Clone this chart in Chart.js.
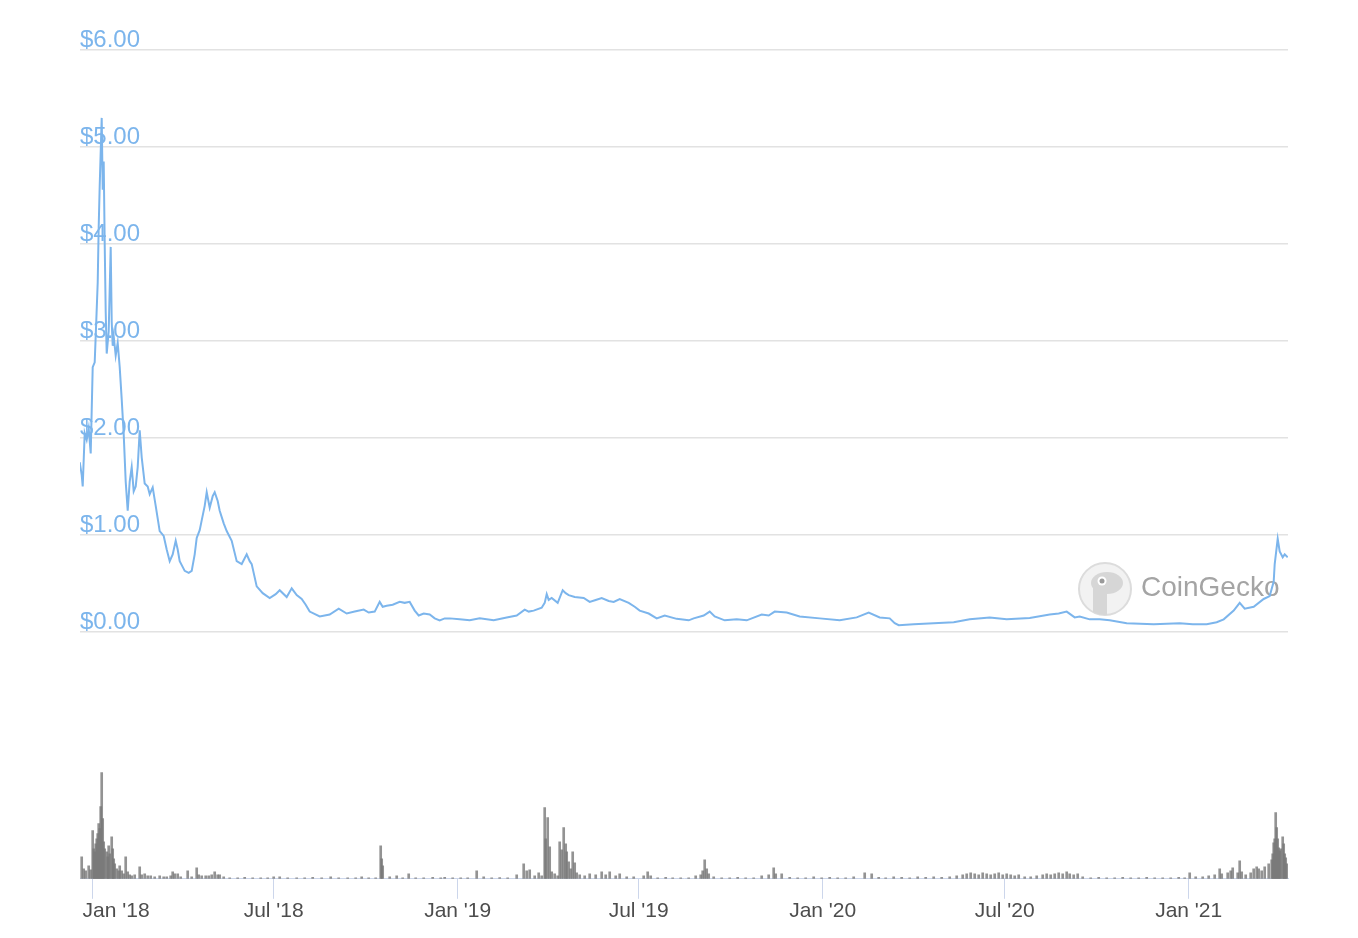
<!DOCTYPE html>
<html>
<head>
<meta charset="utf-8">
<script src="https://cdn.jsdelivr.net/npm/chart.js@4/dist/chart.umd.min.js"></script>
<style>
  html, body { margin: 0; padding: 0; background: #fff; }
  #wrap { position: relative; width: 1358px; height: 938px; }
</style>
</head>
<body>
<div id="wrap"><canvas id="priceChart" width="1358" height="938"></canvas></div>
<script>
// days counted from Jan 1 2018
const priceDays = [
  -13, -11, -10, -8, -6, -4, -2, 0, 2, 3, 5, 6, 7, 9, 10, 11, 12, 13, 14, 16,
  18, 19, 20, 21, 23, 25, 27, 29, 31, 33, 35, 37, 39, 41, 43, 45, 47, 49, 52, 55,
  57, 60, 63, 67, 71, 74, 77, 80, 83, 85, 87, 92, 96, 99, 102, 104, 107, 109, 112, 114,
  117, 120, 122, 125, 127, 131, 134, 139, 144, 149, 154, 157, 159, 164, 170, 177, 183, 187, 194, 199,
  204, 209, 213, 217, 227, 237, 246, 254, 262, 271, 276, 282, 287, 290, 294, 300, 307, 312, 317, 322,
  326, 331, 337, 342, 347, 352, 357, 367, 377, 387, 401, 414, 424, 432, 436, 441, 449, 452, 454, 456,
  459, 465, 470, 473, 476, 482, 491, 497, 503, 509, 516, 521, 527, 536, 542, 547, 556, 564, 572, 584,
  596, 601, 611, 617, 622, 632, 644, 654, 669, 676, 682, 694, 707, 727, 747, 764, 776, 787, 797, 802,
  806, 821, 841, 861, 877, 897, 914, 937, 957, 966, 974, 982, 987, 997, 1007, 1017, 1034, 1061, 1087, 1100,
  1114, 1124, 1131, 1141, 1147, 1152, 1161, 1171, 1177, 1181, 1182, 1185, 1187, 1190, 1192, 1195
];
const priceUsd = [
  1.75, 1.62, 1.50, 2.05, 1.98, 2.10, 1.84, 2.73, 2.78, 3.05, 3.60, 4.18, 4.60, 5.30, 4.56, 4.85, 4.00, 3.30, 2.87, 3.10,
  3.97, 3.20, 2.95, 3.05, 2.85, 2.98, 2.73, 2.40, 2.04, 1.55, 1.25, 1.55, 1.70, 1.45, 1.50, 1.70, 2.08, 1.80, 1.53, 1.50,
  1.42, 1.49, 1.30, 1.04, 0.99, 0.85, 0.73, 0.80, 0.94, 0.85, 0.73, 0.63, 0.61, 0.63, 0.80, 0.97, 1.05, 1.15, 1.30, 1.44,
  1.28, 1.40, 1.44, 1.35, 1.25, 1.12, 1.04, 0.94, 0.73, 0.70, 0.80, 0.73, 0.70, 0.47, 0.40, 0.35, 0.39, 0.43, 0.36, 0.45,
  0.38, 0.34, 0.28, 0.21, 0.16, 0.18, 0.24, 0.19, 0.21, 0.23, 0.20, 0.21, 0.31, 0.26, 0.27, 0.28, 0.31, 0.30, 0.31, 0.22,
  0.17, 0.19, 0.18, 0.14, 0.12, 0.14, 0.14, 0.13, 0.12, 0.14, 0.12, 0.15, 0.17, 0.23, 0.21, 0.22, 0.25, 0.30, 0.39, 0.33,
  0.35, 0.30, 0.43, 0.40, 0.38, 0.36, 0.35, 0.31, 0.33, 0.35, 0.32, 0.31, 0.34, 0.30, 0.26, 0.22, 0.19, 0.14, 0.17, 0.135,
  0.12, 0.14, 0.17, 0.21, 0.16, 0.12, 0.13, 0.12, 0.18, 0.17, 0.21, 0.20, 0.16, 0.14, 0.12, 0.15, 0.20, 0.15, 0.14, 0.09,
  0.07, 0.08, 0.09, 0.10, 0.13, 0.15, 0.13, 0.145, 0.18, 0.19, 0.21, 0.15, 0.16, 0.13, 0.13, 0.12, 0.09, 0.08, 0.09, 0.08,
  0.08, 0.10, 0.13, 0.22, 0.30, 0.24, 0.26, 0.34, 0.37, 0.52, 0.70, 0.96, 0.83, 0.77, 0.80, 0.77
];

// volume, relative units
const volumeDays = [
  -11, -9, -7, -4, -2, 0, 1, 2, 3, 4, 5, 6, 7, 8, 9, 10, 11, 12, 14, 15,
  16, 17, 19, 20, 21, 22, 24, 26, 27, 29, 31, 33, 35, 37, 39, 42, 47, 49, 52, 55,
  58, 62, 67, 71, 74, 78, 80, 82, 85, 88, 95, 99, 104, 106, 109, 113, 116, 119, 122, 125,
  127, 131, 137, 145, 152, 160, 168, 175, 181, 187, 195, 204, 212, 220, 229, 238, 246, 255, 263, 269,
  276, 283, 288, 289, 290, 297, 304, 310, 316, 323, 331, 340, 348, 352, 360, 368, 375, 384, 391, 399,
  407, 415, 424, 431, 434, 437, 442, 446, 449, 452, 453, 455, 457, 459, 462, 465, 467, 469, 471, 473,
  474, 476, 478, 480, 482, 484, 487, 492, 497, 503, 509, 513, 517, 523, 527, 534, 541, 551, 555, 558,
  565, 573, 580, 588, 596, 603, 608, 610, 612, 614, 616, 621, 629, 637, 645, 653, 661, 669, 676, 681,
  683, 689, 697, 705, 713, 721, 729, 737, 745, 753, 761, 772, 779, 786, 793, 801, 809, 817, 825, 833,
  841, 849, 857, 864, 870, 874, 878, 882, 886, 890, 894, 898, 902, 906, 910, 914, 918, 922, 926, 932,
  938, 944, 950, 954, 958, 962, 966, 970, 974, 977, 981, 985, 990, 998, 1006, 1014, 1022, 1030, 1038, 1046,
  1054, 1062, 1070, 1078, 1086, 1092, 1097, 1103, 1110, 1116, 1122, 1127, 1129, 1135, 1138, 1140, 1145, 1147, 1149, 1153,
  1158, 1161, 1164, 1166, 1169, 1172, 1176, 1179, 1180, 1181, 1182, 1183, 1184, 1185, 1186, 1187, 1188, 1190, 1191, 1192,
  1193, 1194
];
const volumeRel = [
  22, 10, 8, 13, 9, 48, 30, 27, 35, 40, 45, 55, 50, 72, 106, 60, 37, 30, 27, 22,
  33, 25, 42, 30, 20, 15, 10, 8, 13, 8, 5, 22, 7, 4, 3, 4, 12, 4, 5, 3,
  3, 2, 3, 2, 2, 3, 7, 5, 5, 2, 8, 2, 11, 4, 3, 3, 3, 4, 7, 4,
  4, 2, 1, 1, 1.5, 1, 1, 1, 2, 2, 1, 1, 1, 1.5, 1, 2, 1, 1, 1, 2,
  1, 1, 33, 20, 13, 2, 3, 1, 5, 1, 1, 1.5, 1, 1.5, 1, 1, 1, 8, 2, 1,
  1.3, 1, 4, 15, 8, 9, 3, 6, 3, 71, 40, 61, 32, 7, 5, 3, 37, 29, 51, 35,
  27, 17, 10, 27, 16, 6, 4, 3, 5, 4, 7, 4, 7, 3, 5, 2, 2, 3, 7, 3,
  1, 1.5, 1, 1, 1, 3, 4, 8, 19, 10, 5, 2, 1, 1, 1.5, 1, 1, 3, 4, 11,
  5, 5, 1.5, 1, 1, 2, 1, 1.5, 1, 1, 2, 6, 5, 1.5, 1, 2, 1.5, 1, 2, 1.5,
  2, 1.5, 2, 3, 4, 5, 6, 5, 4, 6, 5, 4, 5, 6, 4, 5, 4, 3, 4, 2,
  2, 3, 4, 5, 4, 5, 6, 5, 7, 5, 4, 5, 2, 1, 1.5, 1, 1, 1.5, 1, 1,
  1.5, 1, 1, 1, 1.5, 1, 6, 2, 2, 3, 4, 10, 5, 6, 8, 11, 6, 18, 7, 4,
  6, 10, 12, 10, 8, 12, 15, 19, 25, 36, 40, 66, 51, 40, 31, 28, 30, 42, 35, 25,
  21, 15
];

const priceTicks = [0, 1, 2, 3, 4, 5, 6];
const dateTickDays = [0, 181, 365, 546, 730, 912, 1096];
const dateTickLabels = ["        Jan '18", "Jul '18", "Jan '19", "Jul '19", "Jan '20", "Jul '20", "Jan '21"];

const priceData = priceDays.map((d, i) => ({ x: d, y: priceUsd[i] }));
const volumeData = volumeDays.map((d, i) => ({ x: d, y: volumeRel[i] }));

const watermark = {
  id: 'watermark',
  beforeDatasetsDraw(chart) {
    const ctx = chart.ctx;
    const cx = 1105, cy = 589, r = 26;
    ctx.save();
    ctx.beginPath();
    ctx.arc(cx, cy, r, 0, Math.PI * 2);
    ctx.fillStyle = '#f2f2f2';
    ctx.fill();
    ctx.lineWidth = 2;
    ctx.strokeStyle = '#dcdcdc';
    ctx.stroke();
    ctx.clip();
    ctx.beginPath();
    ctx.ellipse(cx + 2, cy - 6, 16, 11, 0, 0, Math.PI * 2);
    ctx.fillStyle = '#d6d6d6';
    ctx.fill();
    ctx.fillRect(cx - 12, cy - 6, 14, 40);
    ctx.beginPath();
    ctx.arc(cx - 3, cy - 8, 4.5, 0, Math.PI * 2);
    ctx.fillStyle = '#ffffff';
    ctx.fill();
    ctx.beginPath();
    ctx.arc(cx - 3, cy - 8, 2.5, 0, Math.PI * 2);
    ctx.fillStyle = '#9a9a9a';
    ctx.fill();
    ctx.restore();
    ctx.save();
    ctx.font = '28px "Liberation Sans", Arial, sans-serif';
    ctx.fillStyle = '#a4a4a4';
    ctx.textBaseline = 'alphabetic';
    ctx.fillText('CoinGecko', 1141, 596);
    ctx.restore();
  }
};

new Chart(document.getElementById('priceChart'), {
  type: 'line',
  data: {
    datasets: [
      {
        label: 'Price',
        data: priceData,
        borderColor: '#7cb5ec',
        borderWidth: 2,
        pointRadius: 0,
        tension: 0,
        yAxisID: 'y',
        order: 1
      },
      {
        type: 'bar',
        label: 'Volume',
        data: volumeData,
        backgroundColor: 'rgba(120,120,120,0.8)',
        barThickness: 2,
        yAxisID: 'vol',
        order: 2
      }
    ]
  },
  options: {
    responsive: false,
    animation: false,
    layout: { padding: { left: 80, right: 70, top: 50, bottom: 14 } },
    plugins: { legend: { display: false }, tooltip: { enabled: false } },
    scales: {
      x: {
        type: 'linear',
        min: -12.7,
        max: 1195.3,
        offset: false,
        afterBuildTicks: scale => { scale.ticks = dateTickDays.map(v => ({ value: v })); },
        ticks: {
          autoSkip: false,
          maxRotation: 0,
          padding: 0,
          color: '#4d4d4d',
          font: { family: '"Liberation Sans", Arial, sans-serif', size: 21 },
          callback: value => dateTickLabels[dateTickDays.indexOf(value)]
        },
        grid: { drawOnChartArea: false, offset: false, tickLength: 20, color: '#ccd6eb' },
        border: { color: '#ccd6eb' }
      },
      y: {
        position: 'left',
        min: -2.545,
        max: 6,
        afterBuildTicks: scale => { scale.ticks = priceTicks.map(v => ({ value: v })); },
        ticks: {
          mirror: true,
          padding: 0,
          labelOffset: -10,
          color: '#7cb5ec',
          font: { family: '"Liberation Sans", Arial, sans-serif', size: 24 },
          callback: value => '$' + value.toFixed(2)
        },
        grid: { color: '#e2e2e2', lineWidth: 1.5, drawTicks: false },
        border: { display: false }
      },
      vol: {
        position: 'left',
        display: false,
        min: 0,
        max: 827
      }
    }
  },
  plugins: [watermark]
});
</script>
</body>
</html>
